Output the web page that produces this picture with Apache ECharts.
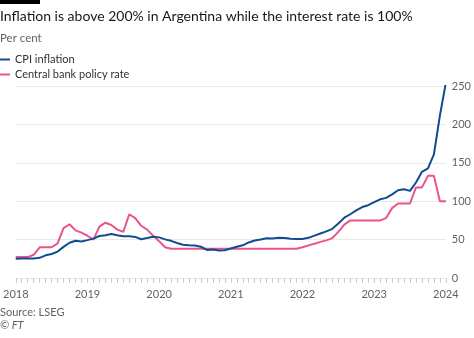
<!DOCTYPE html>
<html>
<head>
<meta charset="utf-8">
<script src="https://cdn.jsdelivr.net/npm/echarts@6/dist/echarts.min.js"></script>
<style>
	html, body { margin: 0; padding: 0; background: #ffffff; }
	#chart { width: 474px; height: 338px; }
</style>
</head>
<body>
<div id="chart"></div>
<script>
// Meses de ene 2018 a ene 2024
const meses = []
for (let a = 2018; a <= 2024; a++) {
	for (let m = 1; m <= 12; m++) {
		if (a === 2024 && m > 1) break
		meses.push(`${a}-${String(m).padStart(2, '0')}`)
	}
}

// IPC interanual (%)
const inflacion = [
	25.0, 25.4, 25.4, 25.5, 26.3, 29.5, 31.2, 34.4, 40.5, 45.9, 48.5, 47.6,
	49.3, 51.3, 54.7, 55.8, 57.3, 55.8, 54.4, 54.5, 53.5, 50.5, 52.1, 53.8,
	52.9, 50.3, 48.4, 45.6, 43.4, 42.8, 42.4, 40.7, 36.6, 37.2, 35.8, 36.1,
	38.5, 40.7, 42.6, 46.3, 48.8, 50.2, 51.8, 51.4, 52.5, 52.1, 51.2, 50.9,
	50.7, 52.3, 55.1, 58.0, 60.7, 64.0, 71.0, 78.5, 83.0, 88.0, 92.4, 94.8,
	98.8, 102.5, 104.3, 108.8, 114.2, 115.6, 113.4, 124.4, 138.3, 142.7, 160.9, 211.4,
	254.2
]

// Tasa de política monetaria (%)
const tasa = [
	27.25, 27.25, 27.25, 30.25, 40, 40, 40, 45, 65, 70, 62, 59,
	55, 50, 67, 72, 69, 63, 60, 83, 78, 68, 63, 55,
	48, 40, 38, 38, 38, 38, 38, 38, 38, 38, 38, 38,
	38, 38, 38, 38, 38, 38, 38, 38, 38, 38, 38, 38,
	40, 42.5, 44.5, 47, 49, 52, 60, 69.5, 75, 75, 75, 75,
	75, 75, 78, 91, 97, 97, 97, 118, 118, 133, 133, 100,
	100
]

const ticksY = [0, 50, 100, 150, 200, 250]

const chart = echarts.init(document.getElementById('chart'))
const fuente = "Lato, 'Noto Sans', sans-serif"

chart.setOption({
	backgroundColor: '#ffffff',
	animation: false,
	textStyle: { fontFamily: fuente },
	graphic: [
		{
			type: 'rect',
			left: 0,
			top: 0,
			shape: { width: 40, height: 4 },
			style: { fill: '#000000' },
		},
	],
	title: [
		{
			text: 'Inflation is above 200% in Argentina while the interest rate is 100%',
			left: 0,
			top: 9,
			padding: 0,
			textStyle: { fontSize: 14, fontWeight: 'normal', color: '#1a1817', fontFamily: fuente },
		},
		{
			text: 'Per cent',
			left: 0,
			top: 32,
			padding: 0,
			textStyle: { fontSize: 11.5, fontWeight: 'normal', color: '#66605c', fontFamily: fuente },
		},
		{
			text: 'Source: LSEG',
			left: 0,
			top: 307,
			padding: 0,
			textStyle: { fontSize: 11, fontWeight: 'normal', color: '#66605c', fontFamily: fuente },
		},
		{
			text: '© FT',
			left: 0,
			top: 320,
			padding: 0,
			textStyle: { fontSize: 11, fontWeight: 'normal', fontStyle: 'italic', color: '#66605c', fontFamily: fuente },
		},
	],
	legend: {
		orient: 'vertical',
		left: 0,
		top: 54,
		padding: 0,
		itemGap: 4,
		itemWidth: 10,
		itemHeight: 2,
		icon: 'rect',
		textStyle: { fontSize: 11, color: '#33302e', fontFamily: fuente },
		data: ['CPI inflation', 'Central bank policy rate'],
	},
	grid: {
		left: 14,
		right: 28,
		top: 86,
		bottom: 60,
	},
	xAxis: {
		type: 'category',
		data: meses,
		boundaryGap: false,
		axisLine: { show: false },
		axisTick: {
			show: true,
			interval: 0,
			length: 5,
			lineStyle: { color: '#cfcac6' },
		},
		axisLabel: {
			interval: (i) => i % 12 === 0,
			formatter: (v) => v.slice(0, 4),
			fontSize: 11,
			color: '#66605c',
			margin: 11,
			fontFamily: fuente,
		},
		splitLine: { show: false },
	},
	yAxis: {
		type: 'value',
		position: 'right',
		min: ticksY[0],
		max: ticksY[ticksY.length - 1],
		interval: 50,
		axisLine: { show: false },
		axisTick: { show: false },
		axisLabel: {
			fontSize: 11,
			color: '#66605c',
			margin: 6,
			fontFamily: fuente,
		},
		splitLine: { lineStyle: { color: '#ebe8e6', width: 1 } },
	},
	series: [
		{
			name: 'CPI inflation',
			type: 'line',
			data: inflacion,
			symbol: 'none',
			color: '#0f4c92',
			lineStyle: { width: 2, color: '#0f4c92' },
			z: 3,
		},
		{
			name: 'Central bank policy rate',
			type: 'line',
			data: tasa,
			symbol: 'none',
			color: '#e9548a',
			lineStyle: { width: 2, color: '#e9548a' },
			z: 2,
		},
	],
})
</script>
</body>
</html>
